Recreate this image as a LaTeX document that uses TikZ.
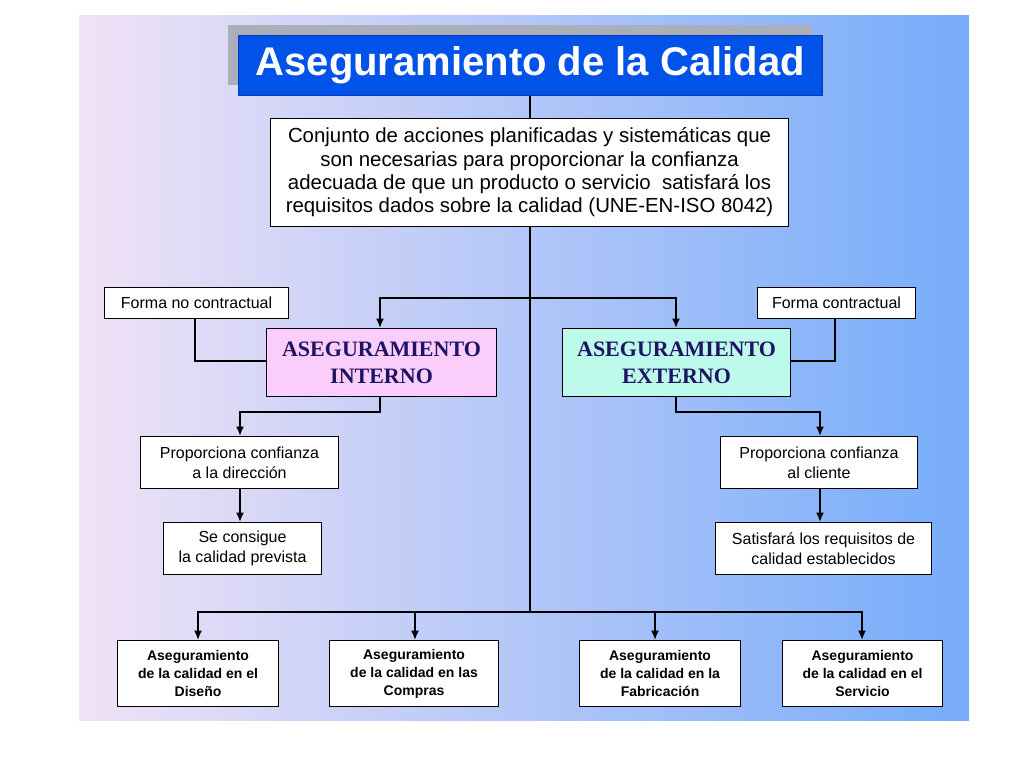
\documentclass[tikz,border=0pt]{standalone}
\usepackage{fontspec}
\setmainfont{Liberation Sans}
\newfontfamily\serifb{Liberation Serif}
\usetikzlibrary{arrows.meta}
\definecolor{bgl}{RGB}{240,226,246}
\definecolor{bgr}{RGB}{118,172,250}
\definecolor{shd}{RGB}{170,175,185}
\definecolor{tblue}{RGB}{0,82,232}
\definecolor{tblued}{RGB}{0,60,180}
\definecolor{pinkc}{RGB}{250,205,250}
\definecolor{mintc}{RGB}{190,250,235}
\definecolor{navy}{RGB}{30,20,100}
\begin{document}
\begin{tikzpicture}[x=0.75pt,y=-0.75pt,
  box/.style={draw=black,fill=white,line width=0.8pt,align=center,inner sep=0pt},
  ln/.style={line width=1.6pt},
  arr/.style={line width=1.6pt,-{Latex[length=7pt,width=6pt]}},
  thin/.style={line width=0.8pt}]
\useasboundingbox (0,0) rectangle (1024,768);
\fill[white] (0,0) rectangle (1024,768);
\shade[left color=bgl,right color=bgr] (79,15) rectangle (969,720);
\fill[shd] (228,25) rectangle (812,85);
\node[fill=tblue,draw=tblued,minimum width=584*0.75pt,minimum height=60*0.75pt,text=white,font=\bfseries\fontsize{30}{34}\selectfont,anchor=north west] (title) at (238,35) {Aseguramiento de la Calidad};
\node[box,minimum width=518*0.75pt,minimum height=108*0.75pt,anchor=north west,font=\fontsize{15.3}{17.5}\selectfont] (def) at (270,118) {Conjunto de acciones planificadas y sistemáticas que\\son necesarias para proporcionar la confianza\\adecuada de que un producto o servicio\ \ satisfará los\\requisitos dados sobre la calidad (UNE-EN-ISO 8042)};
\node[box,minimum width=184*0.75pt,minimum height=31*0.75pt,anchor=north west,font=\fontsize{12}{14}\selectfont] (fnc) at (104,287) {Forma no contractual};
\node[box,minimum width=158*0.75pt,minimum height=31*0.75pt,anchor=north west,font=\fontsize{12}{14}\selectfont] (fc) at (757,287) {Forma contractual};
\node[box,fill=pinkc,minimum width=230*0.75pt,minimum height=68*0.75pt,anchor=north west,font=\serifb\bfseries\fontsize{16.5}{20}\selectfont,text=navy] (int) at (266,328) {ASEGURAMIENTO\\INTERNO};
\node[box,fill=mintc,minimum width=228*0.75pt,minimum height=68*0.75pt,anchor=north west,font=\serifb\bfseries\fontsize{16.5}{20}\selectfont,text=navy] (ext) at (562,328) {ASEGURAMIENTO\\EXTERNO};
\node[box,minimum width=198*0.75pt,minimum height=52*0.75pt,anchor=north west,font=\fontsize{12}{15}\selectfont] (pd) at (140,436) {Proporciona confianza\\a la dirección};
\node[box,minimum width=158*0.75pt,minimum height=52*0.75pt,anchor=north west,font=\fontsize{12}{15}\selectfont] (sc) at (163,522) {Se consigue\\la calidad prevista};
\node[box,minimum width=197*0.75pt,minimum height=52*0.75pt,anchor=north west,font=\fontsize{12}{15}\selectfont] (pc) at (720,436) {Proporciona confianza\\al cliente};
\node[box,minimum width=216*0.75pt,minimum height=52*0.75pt,anchor=north west,font=\fontsize{12}{15}\selectfont] (sr) at (715,522) {Satisfará los requisitos de\\calidad establecidos};
\tikzset{bb/.style={box,minimum height=66*0.75pt,anchor=north west,font=\bfseries\fontsize{10.5}{13.5}\selectfont}}
\node[bb,minimum width=161*0.75pt] (b1) at (117,640) {Aseguramiento\\de la calidad en el\\Diseño};
\node[bb,minimum width=169*0.75pt] (b2) at (329,640) {Aseguramiento\\de la calidad en las\\Compras};
\node[bb,minimum width=161*0.75pt] (b3) at (579,640) {Aseguramiento\\de la calidad en la\\Fabricación};
\node[bb,minimum width=160*0.75pt] (b4) at (782,640) {Aseguramiento\\de la calidad en el\\Servicio};
% connectors
\draw[ln] (title.south -| 530,0) -- (def.north -| 530,0);
\draw[ln] (def.south -| 530,0) -- (530,612);
\draw[arr] (530,298) -| (int.north -| 380,0);
\draw[arr] (530,298) -| (ext.north -| 676,0);
\draw[thin] (fnc.south -| 195,0) |- (int.west |- 0,361);
\draw[thin] (fc.south -| 835,0) |- (ext.east |- 0,361);
\draw[arr] (int.south -| 380,0) |- (240,412) -- (pd.north -| 240,0);
\draw[arr] (ext.south -| 676,0) |- (820,412) -- (pc.north -| 820,0);
\draw[arr] (pd.south -| 240,0) -- (sc.north -| 240,0);
\draw[arr] (pc.south -| 820,0) -- (sr.north -| 820,0);
\draw[ln] (198,612) -- (862,612);
\draw[arr] (198,611) -- (b1.north -| 198,0);
\draw[arr] (415,611) -- (b2.north -| 415,0);
\draw[arr] (655,611) -- (b3.north -| 655,0);
\draw[arr] (862,611) -- (b4.north -| 862,0);
\end{tikzpicture}
\end{document}
